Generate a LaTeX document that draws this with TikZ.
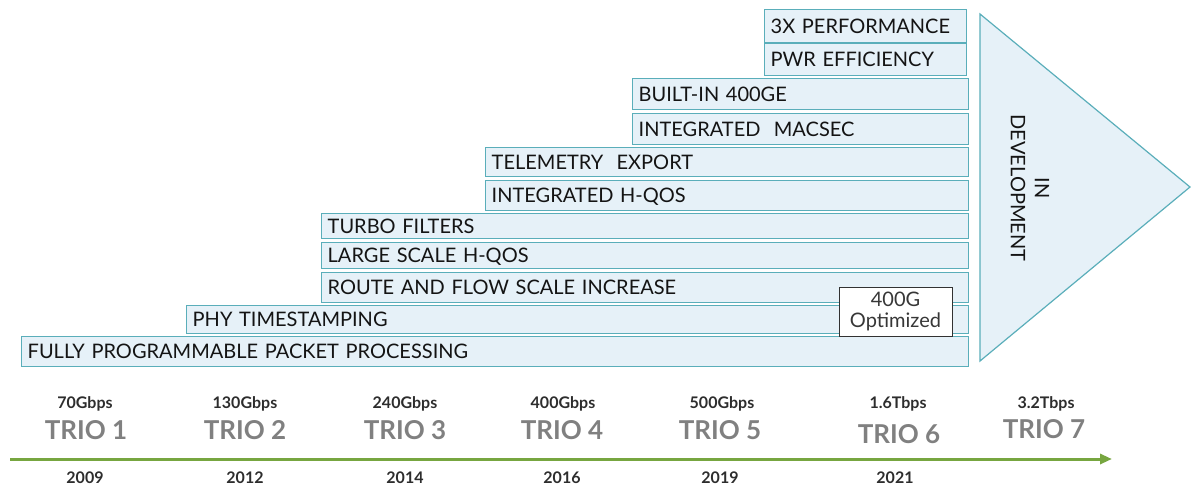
\documentclass[tikz,border=0pt]{standalone}
\usepackage{fontspec}
\setmainfont{Lato}
\usetikzlibrary{arrows.meta}
\definecolor{barfill}{RGB}{230,241,248}
\definecolor{barline}{RGB}{90,174,186}
\definecolor{txt}{RGB}{20,20,20}
\definecolor{subtxt}{RGB}{45,45,45}
\definecolor{triogrey}{RGB}{128,128,128}
\definecolor{tlgreen}{RGB}{119,166,64}
\definecolor{boxline}{RGB}{50,50,50}
\definecolor{boxtxt}{RGB}{55,55,55}
\tikzset{
  bar/.style={draw=barline, fill=barfill, line width=1.4pt, inner xsep=6pt, inner ysep=0pt,
    align=left, text=txt, font=\fontsize{20}{22}\selectfont, text height=14pt, text depth=0pt},
  optbox/.style={draw=boxline, fill=white, line width=0.9pt, align=center, text=boxtxt,
    font=\fontsize{20}{22}\selectfont, minimum width=113pt, minimum height=49pt, inner sep=0pt},
  speed/.style={anchor=base, text=subtxt, font=\bfseries\fontsize{16}{18}\selectfont},
  trio/.style={anchor=base, text=triogrey, font=\bfseries\fontsize{26}{28}\selectfont},
  year/.style={anchor=base, text=subtxt, font=\bfseries\fontsize{16}{18}\selectfont},
  devtxt/.style={align=center, text=txt, font=\fontsize{20}{24}\selectfont, rotate=-90},
  tri/.style={draw=barline, fill=barfill, line width=1.2pt, line join=miter},
  timeline/.style={draw=tlgreen, line width=3pt, -{Triangle[length=12pt,width=10pt]}}
}
\newcommand\featbar[6]{%
  \pgfmathsetmacro\fbw{#3-#1-12}%
  \pgfmathsetmacro\fbh{#4-#2}%
  \node[bar, anchor=north west, minimum height=\fbh pt, text width=\fbw pt] (#5) at (#1,#2) {#6};}
\begin{document}
\begin{tikzpicture}[x=1pt,y=-1pt]
\useasboundingbox (0,0) rectangle (1200,491);
% feature bars
\featbar{21}{336}{968}{366}{b1}{FULLY PROGRAMMABLE PACKET PROCESSING}
\featbar{186}{305}{968}{333}{b2}{PHY TIMESTAMPING}
\featbar{321}{272}{968}{302}{b3}{ROUTE AND FLOW SCALE INCREASE}
\featbar{321}{242}{968}{268}{b4}{LARGE SCALE H-QOS}
\featbar{321}{213}{968}{238}{b5}{TURBO FILTERS}
\featbar{485}{180}{968}{210}{b6}{INTEGRATED H-QOS}
\featbar{485}{147}{968}{176}{b7}{TELEMETRY\ \ EXPORT}
\featbar{632}{113}{968}{144}{b8}{INTEGRATED\ \ MACSEC}
\featbar{632}{78}{968}{109}{b9}{BUILT-IN 400GE}
\featbar{764}{43}{966}{75}{b10}{PWR EFFICIENCY}
\featbar{764}{9}{966}{42}{b11}{3X PERFORMANCE}
% 400G optimized box
\node[optbox] (opt) at (895.5,311.5) {400G\\[-1pt]Optimized};
% in development triangle
\draw[tri] (980,14) -- (1190,187) -- (980,361) -- cycle;
\node[devtxt] (dev) at (1030,188) {IN\\DEVELOPMENT};
% timeline
\coordinate (ts) at (10,459);
\coordinate (te) at (1112,459);
\draw[timeline] (ts) -- (te);
% generations
\node[speed] (s1) at (85,408) {70Gbps};
\node[speed] (s2) at (245,408) {130Gbps};
\node[speed] (s3) at (405,408) {240Gbps};
\node[speed] (s4) at (563,408) {400Gbps};
\node[speed] (s5) at (722,408) {500Gbps};
\node[speed] (s6) at (898,408) {1.6Tbps};
\node[speed] (s7) at (1046,408) {3.2Tbps};
\node[trio] (t1) at (86,439) {TRIO 1};
\node[trio] (t2) at (245,439) {TRIO 2};
\node[trio] (t3) at (405,439) {TRIO 3};
\node[trio] (t4) at (562,439) {TRIO 4};
\node[trio] (t5) at (720,439) {TRIO 5};
\node[trio] (t6) at (899,443) {TRIO 6};
\node[trio] (t7) at (1044,438) {TRIO 7};
\node[year] (y1) at (85,483) {2009};
\node[year] (y2) at (245,483) {2012};
\node[year] (y3) at (405,483) {2014};
\node[year] (y4) at (562,483) {2016};
\node[year] (y5) at (720,483) {2019};
\node[year] (y6) at (895,483) {2021};
\end{tikzpicture}
\end{document}
